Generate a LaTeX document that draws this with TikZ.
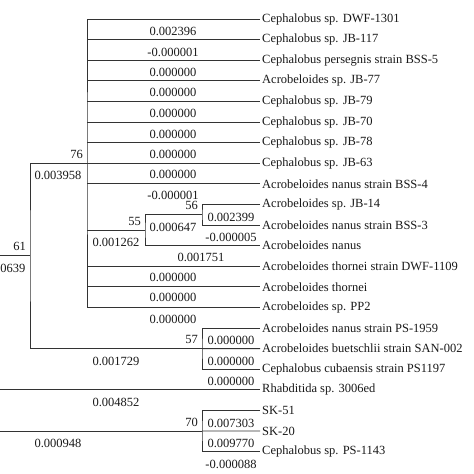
\documentclass[tikz,border=0pt]{standalone}
\usepackage{fontspec}
\setmainfont{Liberation Serif}
\usetikzlibrary{positioning,calc}

\begin{document}
\begin{tikzpicture}[x=1pt, y=-1pt,
  br/.style={draw=black!80, line width=0.9pt},
  leaf/.style={anchor=west, inner sep=2pt, font=\fontsize{12.5}{14}\selectfont, text=black!90},
  len/.style={inner sep=0pt, font=\fontsize{12.5}{14}\selectfont, text=black!90},
  boot/.style={anchor=east, inner sep=0pt, font=\fontsize{12.5}{14}\selectfont, text=black!90}
]
\useasboundingbox (0,0) rectangle (474,474);
\clip (0,0) rectangle (474,474);

% taxa
\foreach \name [count=\i] in {Cephalobus sp. DWF-1301, Cephalobus sp. JB-117,
  Cephalobus persegnis strain BSS-5, Acrobeloides sp. JB-77, Cephalobus sp. JB-79,
  Cephalobus sp. JB-70, Cephalobus sp. JB-78, Cephalobus sp. JB-63,
  Acrobeloides nanus strain BSS-4, Acrobeloides sp. JB-14,
  Acrobeloides nanus strain BSS-3, Acrobeloides nanus,
  Acrobeloides thornei strain DWF-1109, Acrobeloides thornei, Acrobeloides sp. PP2,
  Acrobeloides nanus strain PS-1959, Acrobeloides buetschlii strain SAN-002,
  Cephalobus cubaensis strain PS1197, Rhabditida sp. 3006ed, SK-51, SK-20,
  Cephalobus sp. PS-1143}
  \node[leaf] (l\i) at (260,{19+20.6*(\i-1)}) {\name};

% inner nodes
\coordinate (n56) at (202,214.7);
\coordinate (n55) at (145,230.2);
\coordinate (n76) at (87,163.2);
\coordinate (n57) at (202,348.6);
\coordinate (n61) at (30,255.9);
\coordinate (n70) at (202,431);
\coordinate (root) at (-26,343);

% branches
\draw[br] (l10.west) -| (n56) |- (l11.west);
\draw[br] (n55 |- n56) -| (n55) |- (l12.west);
\draw[br] (n56) -- (n55 |- n56);
\draw[br] (l1.west) -| (n76) |- (l15.west);
\foreach \i in {2,...,9,13,14}
  \draw[br] (n76 |- l\i) -- (l\i.west);
\draw[br] (n55) -- (n76 |- n55);
\draw[br] (l16.west) -| (n57) |- (l18.west);
\draw[br] (n57) -- (l17.west);
\draw[br] (n76) -| (n61) |- (n57);
\draw[br] (l20.west) -| (n70) |- (l22.west);
\draw[br] (n70) -- (l21.west);
\draw[br] (n61) -| (root) |- (n70);
\draw[br] (root |- l19) -- (l19.west);

% support values
\foreach \n in {76,61,55,56,57,70}
  \node[boot] at ([shift={(-4,-9)}]n\n) {\n};

% branch lengths
\foreach \y/\v in {31/0.002396, 52/-0.000001, 72/0.000000, 92/0.000000,
  113/0.000000, 134/0.000000, 154/0.000000, 174/0.000000, 195/-0.000001,
  227/0.000647, 277/0.000000, 297/0.000000, 319/0.000000}
  \node[len] at (173,\y) {\v};
\foreach \y/\v in {217/0.002399, 237/-0.000005, 340/0.000000, 361/0.000000,
  381/0.000000, 423/0.007303, 443/0.009770, 464/-0.000088}
  \node[len] at (231,\y) {\v};
\node[len] at (201,257) {0.001751};
\node[len] at (116,242) {0.001262};
\node[len] at (116,361) {0.001729};
\node[len] at (116,402) {0.004852};
\node[len] at (58,175) {0.003958};
\node[len] at (58,443) {0.000948};
\node[len] at (2,268) {0.000639};
\end{tikzpicture}
\end{document}
